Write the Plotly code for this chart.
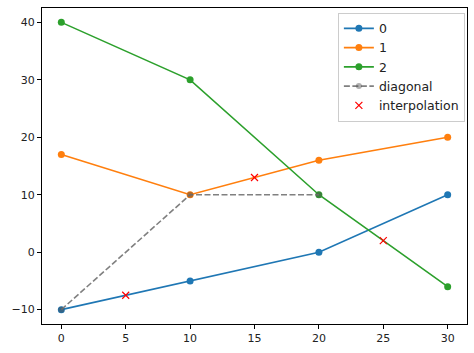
import plotly.graph_objects as go

x_vals = [0, 10, 20, 30]
series_0 = [-10, -5, 0, 10]
series_1 = [17, 10, 16, 20]
series_2 = [40, 30, 10, -6]
diag_x = [0, 10, 20]
diag_y = [-10, 10, 10]
interp_x = [5, 15, 25]
interp_y = [-7.5, 13, 2]
x_ticks = [0, 5, 10, 15, 20, 25, 30]
y_ticks = [-10, 0, 10, 20, 30, 40]

colors = ["#1f77b4", "#ff7f0e", "#2ca02c"]

fig = go.Figure()
for name, ys, c in zip(["0", "1", "2"], [series_0, series_1, series_2], colors):
    fig.add_trace(go.Scatter(x=x_vals, y=ys, name=name, mode="lines+markers",
                             line=dict(color=c, width=1.6),
                             marker=dict(color=c, size=7)))
fig.add_trace(go.Scatter(x=diag_x, y=diag_y, name="diagonal", mode="lines+markers",
                         line=dict(color="rgba(128,128,128,1)", width=1.6, dash="6px,2.5px"),
                         marker=dict(color="rgba(80,80,80,0.45)", size=6)))
fig.add_trace(go.Scatter(x=interp_x, y=interp_y, name="interpolation", mode="markers",
                         marker=dict(color="red", size=7, symbol="x-thin",
                                     line=dict(color="red", width=1.2))))

axis_common = dict(showgrid=False, zeroline=False, showline=True, linecolor="black",
                   linewidth=1, mirror=True, ticks="outside", ticklen=4, tickwidth=1,
                   tickcolor="black", tickfont=dict(family="DejaVu Sans", size=11, color="#222"))
fig.update_xaxes(range=[-1.5, 31.5], tickvals=x_ticks, **axis_common)
fig.update_yaxes(range=[-12.5, 42.5], tickvals=y_ticks, **axis_common)

fig.update_layout(
    width=474, height=353,
    margin=dict(l=42, r=7, t=8, b=29),
    paper_bgcolor="white", plot_bgcolor="white",
    font=dict(family="DejaVu Sans", size=11, color="#222"),
    legend=dict(x=0.995, y=0.985, xanchor="right", yanchor="top",
                bgcolor="rgba(255,255,255,0.8)", bordercolor="#cccccc", borderwidth=1,
                font=dict(family="DejaVu Sans", size=12.5), tracegroupgap=0,
                itemwidth=30),
    showlegend=True,
)
fig.write_html("out.html")
